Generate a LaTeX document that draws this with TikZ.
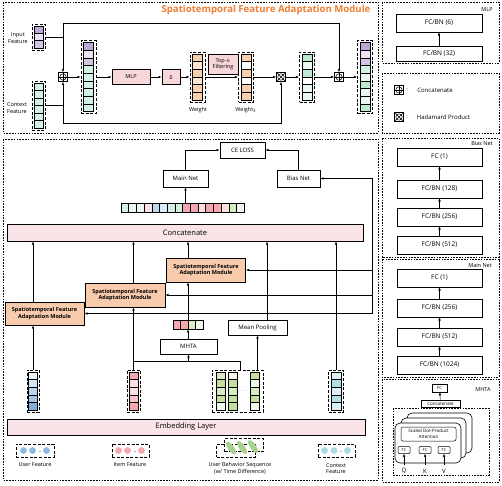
\documentclass[tikz,border=0pt]{standalone}
\usepackage{fontspec}
\setmainfont{Open Sans}
\usetikzlibrary{arrows.meta,calc,positioning}

\definecolor{ttlorange}{HTML}{ED7D31}
\definecolor{modorange}{HTML}{F8CBAD}
\definecolor{barpink}{HTML}{FBE4E7}
\definecolor{boxpink}{HTML}{F8D7DA}
\definecolor{purD}{HTML}{BBA8D4}
\definecolor{purL}{HTML}{E9E3F2}
\definecolor{purM}{HTML}{D2C6E4}
\definecolor{mintA}{HTML}{D3F1E3}
\definecolor{mintD}{HTML}{BDE8D2}
\definecolor{mintL}{HTML}{EAF8F1}
\definecolor{peach}{HTML}{F9D0AE}
\definecolor{peachL}{HTML}{FCE4D1}
\definecolor{blueA}{HTML}{EEF4FB}
\definecolor{blueB}{HTML}{D5E5F4}
\definecolor{blueC}{HTML}{BBD4EC}
\definecolor{blueD}{HTML}{A2C4E5}
\definecolor{blueE}{HTML}{7FAFDA}
\definecolor{blueM}{HTML}{BDD7EE}
\definecolor{blueL}{HTML}{DDEBF7}
\definecolor{pinkD}{HTML}{F4A7AF}
\definecolor{pinkM}{HTML}{F8C4C9}
\definecolor{pinkL}{HTML}{FCE0E3}
\definecolor{seqD}{HTML}{C2DFA0}
\definecolor{seqM}{HTML}{D8EBC2}
\definecolor{seqL}{HTML}{F0F7E8}
\definecolor{lgrn}{HTML}{D9EDC6}
\definecolor{lgrnL}{HTML}{F0F7E9}
\definecolor{tealD}{HTML}{B2DEE6}
\definecolor{tealL}{HTML}{DCF0F4}
\definecolor{dotblue}{HTML}{8DBAE2}
\definecolor{dotpink}{HTML}{F4A7AF}
\definecolor{dotteal}{HTML}{A9DAE3}
\definecolor{dotgreen}{HTML}{A9D18E}

% cells of a feature vector: x left, y top, width, height, colours
\newcommand{\vcells}[5]{\foreach \cc [count=\ii from 0] in {#5}{\filldraw[fill=\cc,draw=black,line width=0.5pt] (#1,{#2+\ii*#4}) rectangle ++(#3,#4);}}
\newcommand{\hcells}[5]{\foreach \cc [count=\ii from 0] in {#5}{\filldraw[fill=\cc,draw=black,line width=0.5pt] ({#1+\ii*#3},#2) rectangle ++(#3,#4);}}

\begin{document}
\begin{tikzpicture}[x=1pt,y=-1pt,>={Latex[length=3.2pt,width=2.6pt]},
                    every node/.style={font=\fontsize{5.5}{6.6}\selectfont}]
  \tikzstyle{panel}=[draw,line width=0.5pt,dash pattern=on 1.6pt off 1.2pt]
  \tikzstyle{vecframe}=[draw,line width=0.7pt,dash pattern=on 3pt off 1.6pt,inner sep=0pt]
  \tikzstyle{netbox}=[draw,line width=0.6pt,fill=white,inner sep=1pt,font=\fontsize{6}{7}\selectfont]
  \tikzstyle{layerbox}=[netbox,font=\fontsize{6.5}{7.5}\selectfont]
  \tikzstyle{modbox}=[draw,line width=0.7pt,fill=modorange,align=center,inner sep=1pt,font=\bfseries\fontsize{5.5}{6.6}\selectfont]
  \tikzstyle{bar}=[draw,line width=0.7pt,fill=barpink,inner sep=0pt,font=\fontsize{7.5}{9}\selectfont]
  \tikzstyle{conn}=[draw,line width=0.8pt,->]
  \tikzstyle{wire}=[draw,line width=0.8pt]
  \tikzstyle{thinconn}=[draw,line width=0.45pt,->]
  \tikzstyle{csym}=[draw,line width=0.5pt,fill=white,minimum size=9pt,inner sep=0pt,
    path picture={\draw[line width=0.5pt] (path picture bounding box.center) circle[radius=3.2pt];
      \draw[line width=0.5pt] (path picture bounding box.north) -- (path picture bounding box.south)
        (path picture bounding box.west) -- (path picture bounding box.east);}]
  \tikzstyle{hsym}=[draw,line width=0.5pt,fill=white,minimum size=9pt,inner sep=0pt,
    path picture={\draw[line width=0.5pt] (path picture bounding box.center) circle[radius=3.2pt];
      \draw[line width=0.5pt] (path picture bounding box.north west) -- (path picture bounding box.south east)
        (path picture bounding box.south west) -- (path picture bounding box.north east);}]

  \useasboundingbox (0,0) rectangle (502,485);

  %% adaptation module (top)
  \draw[panel] (3,2) rectangle (378,133);
  \node[text=ttlorange,font=\bfseries\fontsize{9.6}{11}\selectfont] (title) at (266,10.5) {Spatiotemporal Feature Adaptation Module};

  \node[align=center] (inlbl) at (18,38) {Input\\Feature};
  \node[vecframe,minimum width=13,minimum height=26] (invec) at (38.5,37) {};
  \vcells{34}{26}{9.5}{7.33}{purD,purL,purM}
  \node[align=center] (ctxlbl) at (17,108) {Context\\Feature};
  \node[vecframe,minimum width=13,minimum height=49] (ctxvec) at (38.5,105.5) {};
  \vcells{34}{83}{9.5}{7.5}{mintA,mintA,mintA,mintA,mintA,mintA}

  \node[csym] (cat1) at (63,77) {};
  \node[vecframe,minimum width=15,minimum height=73] (catvec) at (88.5,77) {};
  \vcells{83.5}{42.5}{10}{7.67}{purD,purL,purM,mintA,mintA,mintA,mintA,mintA,mintA}
  \node[draw,line width=0.6pt,fill=boxpink,minimum width=38,minimum height=15] (mlp) at (131,77) {MLP};
  \node[draw,line width=0.6pt,fill=boxpink,minimum width=18,minimum height=15] (sig) at (171,77) {δ};
  \node[vecframe,minimum width=15,minimum height=50] (wvec) at (197.5,77) {};
  \vcells{192.5}{54}{10}{7.67}{peach,peachL,peach,peachL,peach,peach}
  \node (wlbl) at (198,110) {Weight};
  \node[draw,line width=0.6pt,fill=boxpink,minimum width=30,minimum height=20,align=center,inner sep=0pt] (topk) at (223,64) {Top-$k$\\Filtering};
  \node[vecframe,minimum width=15,minimum height=50] (wtvec) at (246,77) {};
  \vcells{241}{54}{10}{7.67}{peach,white,peach,white,peach,peach}
  \node (wtlbl) at (246,110) {Weight$_t$};
  \node[hsym] (had) at (281,77) {};
  \node[vecframe,minimum width=15,minimum height=50] (gvec) at (307,77) {};
  \vcells{302}{54}{10}{7.67}{mintD,mintL,mintD,white,mintL,mintL}
  \node[csym] (cat2) at (339,77) {};
  \node[vecframe,minimum width=15,minimum height=73] (outvec) at (365,77) {};
  \vcells{360}{42.5}{10}{7.67}{purD,purL,purM,mintA,mintL,mintD,mintL,mintL,mintD}

  \coordinate (jin) at (63,37);
  \coordinate (jctx) at (63,105.5);
  \draw[wire] (invec.east) -- (jin);
  \draw[wire] (ctxvec.east) -- (jctx);
  \draw[conn] (jin) -- (cat1.north);
  \draw[conn] (jctx) -- (cat1.south);
  \draw[conn] (jin) -- (63,23) -- (339,23) -- (cat2.north);
  \draw[conn] (jctx) -- (63,123) -- (281,123) -- (had.south);
  \draw[conn] (cat1) -- (catvec);
  \draw[conn] (catvec) -- (mlp);
  \draw[conn] (mlp) -- (sig);
  \draw[conn] (sig) -- (wvec);
  \draw[conn] (wvec) -- (wtvec);
  \draw[conn] (wtvec) -- (had);
  \draw[conn] (had) -- (gvec);
  \draw[conn] (gvec) -- (cat2);
  \draw[conn] (cat2) -- (outvec);

  %% right column
  \draw[panel] (382,2) rectangle (499,63);
  \node (mlplbl) at (487,10) {MLP};
  \node[layerbox,minimum width=86,minimum height=18] (fc6) at (439,23) {FC/BN (6)};
  \node[layerbox,minimum width=86,minimum height=15] (fc32) at (439,53.5) {FC/BN (32)};
  \draw[thinconn] (fc32) -- (fc6);

  \draw[panel] (382,73) rectangle (499,133);
  \node[csym] (lgcat) at (399,90) {};
  \node (lgcatc) at (407,90) {:};
  \node[font=\fontsize{6}{7}\selectfont] (lgcattxt) at (435,90) {Concatenate};
  \node[hsym] (lghad) at (399,117) {};
  \node (lghadc) at (407,117) {:};
  \node[font=\fontsize{6}{7}\selectfont] (lghadtxt) at (443.5,117) {Hadamard Product};

  \draw[panel] (382,138) rectangle (499,257);
  \node (biaslbl) at (482,144) {Bias Net};
  \node[layerbox,minimum width=85,minimum height=18] (b1) at (439.5,157) {FC (1)};
  \node[layerbox,minimum width=85,minimum height=18] (b2) at (439.5,189) {FC/BN (128)};
  \node[layerbox,minimum width=85,minimum height=18] (b3) at (439.5,217) {FC/BN (256)};
  \node[layerbox,minimum width=85,minimum height=18] (b4) at (439.5,245) {FC/BN (512)};
  \draw[thinconn] (b4) -- (b3);
  \draw[thinconn] (b3) -- (b2);
  \draw[thinconn] (b2) -- (b1);

  \draw[panel] (382,259) rectangle (499,377);
  \node (mainlbl) at (480,266) {Main Net};
  \node[layerbox,minimum width=85,minimum height=18] (m1) at (439.5,278) {FC (1)};
  \node[layerbox,minimum width=85,minimum height=18] (m2) at (439.5,308) {FC/BN (256)};
  \node[layerbox,minimum width=85,minimum height=18] (m3) at (439.5,337) {FC/BN (512)};
  \node[layerbox,minimum width=85,minimum height=18] (m4) at (439.5,365) {FC/BN (1024)};
  \draw[thinconn] (m4) -- (m3);
  \draw[thinconn] (m3) -- (m2);
  \draw[thinconn] (m2) -- (m1);

  \draw[panel] (382,379) rectangle (499,482);
  \node (mhtalbl) at (483,390) {MHTA};
  \node[draw,line width=0.5pt,minimum width=15,minimum height=8,inner sep=0pt,font=\fontsize{4}{5}\selectfont] (hfc) at (439.5,388) {FC};
  \node[draw,line width=0.5pt,minimum width=39,minimum height=7,inner sep=0pt,font=\fontsize{4.5}{5}\selectfont] (hcat) at (440.5,403.5) {Concatenate};
  \draw[thinconn] (hcat) -- (hfc);
  \draw[panel] (393,408) rectangle (489,475);
  \draw[line width=0.6pt,rounded corners=5pt,fill=white] (407,413) rectangle (472,453);
  \draw[line width=0.6pt,rounded corners=5pt,fill=white] (401,418) rectangle (466,458);
  \draw[line width=0.6pt,rounded corners=5pt,fill=white] (395,423) rectangle (461,463);
  \node[font=\fontsize{4}{5}\selectfont] (hdots) at (468,410.5) {...};
  \node[draw,line width=0.5pt,rounded corners=2pt,minimum width=55,minimum height=14,inner sep=0pt,align=center,font=\fontsize{4.5}{5.4}\selectfont] (sdpa) at (428.5,434) {Scaled Dot-Product\\Attention};
  \node[draw,line width=0.5pt,rounded corners=1pt,minimum width=12,minimum height=7,inner sep=0pt,font=\fontsize{4}{5}\selectfont] (fcq) at (404,450) {FC};
  \node[draw,line width=0.5pt,rounded corners=1pt,minimum width=12,minimum height=7,inner sep=0pt,font=\fontsize{4}{5}\selectfont] (fck) at (425,450) {FC};
  \node[draw,line width=0.5pt,rounded corners=1pt,minimum width=12,minimum height=7,inner sep=0pt,font=\fontsize{4}{5}\selectfont] (fcv) at (444,450) {FC};
  \node[font=\fontsize{6}{7}\selectfont] (qq) at (404,471) {Q};
  \node[font=\fontsize{6}{7}\selectfont] (kk) at (425,471) {K};
  \node[font=\fontsize{6}{7}\selectfont] (vv) at (444,471) {V};
  \draw[thinconn] (qq) -- (fcq);
  \draw[thinconn] (kk) -- (fck);
  \draw[thinconn] (vv) -- (fcv);

  %% whole model (bottom)
  \draw[panel] (3,139) rectangle (378,480);
  \node[netbox,minimum width=45,minimum height=16] (celoss) at (242.5,150) {CE LOSS};
  \node[netbox,minimum width=45,minimum height=17] (mainnet) at (185.5,178.5) {Main Net};
  \node[netbox,minimum width=43,minimum height=17] (biasnet) at (298.5,178.5) {Bias Net};
  \draw[conn] (mainnet.north) |- (celoss.west);
  \draw[conn] (biasnet.north) |- (celoss.east);

  \node[inner sep=0pt,minimum width=123.2,minimum height=9] (catout) at (182.6,207.5) {};
  \hcells{121}{203}{7.7}{9}{mintA,mintL,mintL,pinkL,blueM,blueL,mintA,mintA,pinkD,pinkD,pinkL,pinkD,pinkD,pinkL,lgrn,lgrnL}
  \draw[conn] (mainnet.south |- catout.north) -- (mainnet.south);

  \node[bar,minimum width=356,minimum height=17] (concat) at (185,232.5) {Concatenate};
  \node[bar,minimum width=358,minimum height=16] (embed) at (186,427) {Embedding Layer};

  \node[modbox,minimum width=79,minimum height=24] (mod3) at (206,270) {Spatiotemporal Feature\\Adaptation Module};
  \node[modbox,minimum width=80,minimum height=24] (mod2) at (125,295) {Spatiotemporal Feature\\Adaptation Module};
  \node[modbox,minimum width=79,minimum height=23] (mod1) at (44.5,313.5) {Spatiotemporal Feature\\Adaptation Module};

  \node[inner sep=0pt,minimum width=30,minimum height=9] (hout) at (188,324.5) {};
  \hcells{173}{320}{7.5}{9}{pinkD,pinkD,lgrn,lgrnL}
  \node[netbox,minimum width=57,minimum height=15] (mhta) at (188.5,346.5) {MHTA};
  \node[netbox,minimum width=59,minimum height=15] (meanpool) at (257.5,327.5) {Mean Pooling};

  \node[vecframe,minimum width=12,minimum height=42] (uvec) at (33,391) {};
  \vcells{28.5}{372}{9}{7.6}{blueA,blueB,blueC,blueD,blueE}
  \node[vecframe,minimum width=13,minimum height=42] (ivec) at (133.5,391) {};
  \vcells{129}{372}{9}{7.6}{pinkD,pinkL,pinkL,pinkM,pinkD}
  \node[vecframe,minimum width=51,minimum height=42] (seqbox) at (237.5,391) {};
  \vcells{216}{372}{9}{7.6}{seqM,seqD,seqM,seqD,seqL}
  \vcells{228.5}{372}{9}{7.6}{seqL,seqD,seqM,seqD,seqD}
  \vcells{250}{372}{9}{7.6}{seqD,seqL,seqM,seqD,seqL}
  \node (seqdots) at (243,391) {$\cdots$};
  \node[vecframe,minimum width=15,minimum height=42] (cvec) at (336,391) {};
  \vcells{331}{372}{10}{7.6}{tealL,tealD,tealL,tealD,tealL}

  \draw[conn] (uvec.north) -- (uvec.north |- mod1.south);
  \draw[conn] (uvec.north |- mod1.north) -- (uvec.north |- concat.south);
  \draw[conn] (ivec.north) -- (ivec.north |- mod2.south);
  \draw[conn] (ivec.north |- mod2.north) -- (ivec.north |- concat.south);
  \coordinate (seqtap) at (240,361);
  \draw[wire] (ivec.north |- seqtap) -- (seqtap) -- (seqtap |- seqbox.north);
  \draw[conn] (mhta.south |- seqtap) -- (mhta.south);
  \draw[conn] (mhta.north -| hout) -- (hout.south);
  \draw[conn] (hout.north) -- (hout.north |- mod3.south);
  \draw[conn] (hout.north |- mod3.north) -- (hout.north |- concat.south);
  \draw[conn] (meanpool.south |- seqbox.north) -- (meanpool.south);
  \draw[conn] ([xshift=9.5pt]meanpool.north) -- ([xshift=9.5pt]meanpool.north |- concat.south);
  \draw[conn] (cvec.north) -- (cvec.north |- concat.south);
  \coordinate (bus) at (372,313.5);
  \draw[conn] (bus) -- (bus |- biasnet.east) -- (biasnet.east);
  \draw[conn] (mod3.east -| bus) -- (mod3.east);
  \draw[conn] (mod2.east -| bus) -- (mod2.east);
  \draw[conn] (bus) -- (mod1.east);

  % input legend
  \node[vecframe,minimum width=38,minimum height=13] (ulg) at (35,450.5) {};
  \fill[dotblue] (23.5,450.5) circle[radius=3.4pt] (32.5,450.5) circle[radius=3.4pt] (46.5,450.5) circle[radius=3.4pt];
  \node[inner sep=0pt] (ulgdots) at (40,452) {..};
  \node (ulgtxt) at (35,464.5) {User Feature};
  \node[vecframe,minimum width=37,minimum height=13] (ilg) at (130.5,450.5) {};
  \fill[dotpink] (118.5,450.5) circle[radius=3.4pt] (127.5,450.5) circle[radius=3.4pt] (141.5,450.5) circle[radius=3.4pt];
  \node[inner sep=0pt] (ilgdots) at (135,452) {..};
  \node (ilgtxt) at (130,464.5) {Item Feature};
  \node[vecframe,minimum width=39,minimum height=13] (slgb) at (244,445) {};
  \node[vecframe,minimum width=39,minimum height=12.5] (slgf) at (236,451) {};
  \foreach \ex/\ey in {231/448,242/447.5,253/446.5}
    \fill[dotgreen,rotate around={-55:(\ex,\ey)}] (\ex,\ey) ellipse[x radius=7.5pt,y radius=3pt];
  \node[align=center] (slgtxt) at (240,468.5) {User Behavior Sequence\\(w/ Time Difference)};
  \node[vecframe,minimum width=37,minimum height=13] (clg) at (336.5,450.5) {};
  \fill[dotteal] (324.5,450.5) circle[radius=3.4pt] (334,450.5) circle[radius=3.4pt] (347.5,450.5) circle[radius=3.4pt];
  \node[inner sep=0pt] (clgdots) at (341,452) {..};
  \node[align=center] (clgtxt) at (336,468.5) {Context\\Feature};
\end{tikzpicture}
\end{document}
